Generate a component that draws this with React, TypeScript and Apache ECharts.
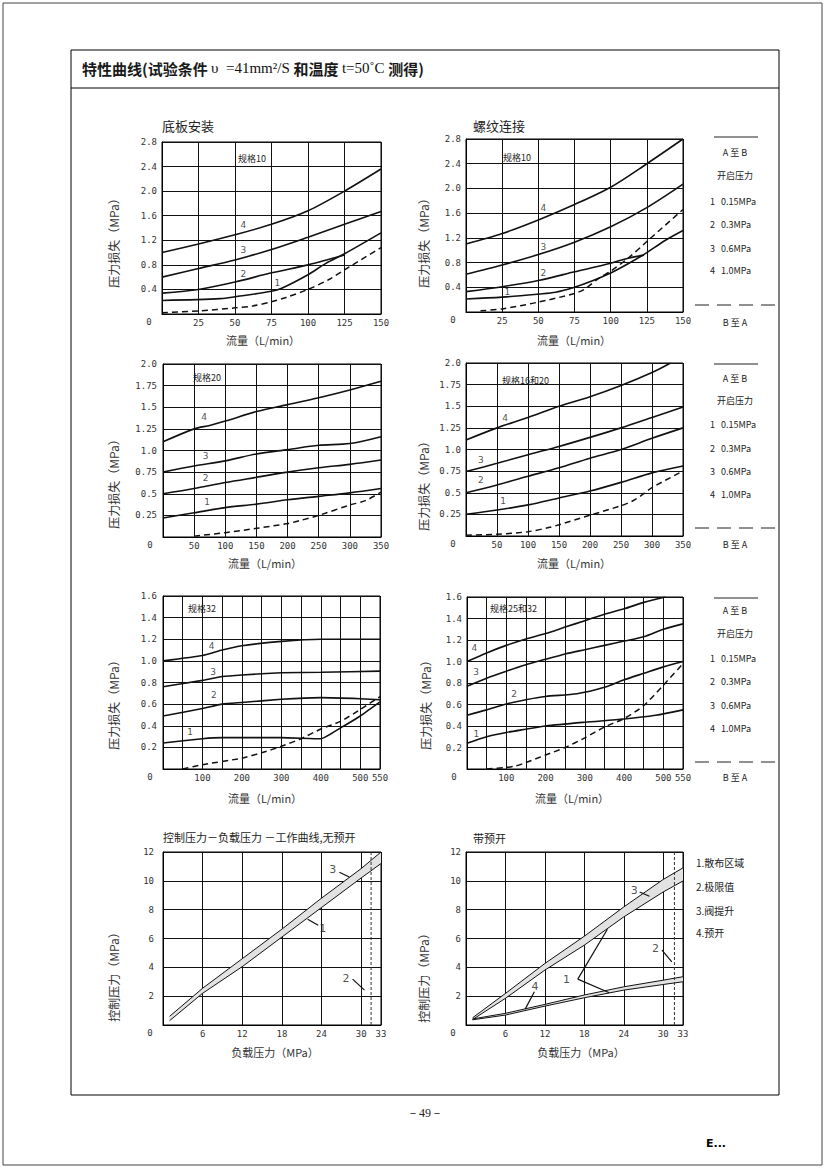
import React, { useEffect, useRef } from "react";
import * as echarts from "echarts";

// ---------------- data ----------------
// Panel 1: 底板安装, 规格10  (x: L/min, y: MPa)
const p1Open1 = [[0, 0.22], [40, 0.25], [50, 0.28], [75, 0.37], [82, 0.42], [100, 0.64], [112, 0.82], [125, 0.98], [150, 1.32]];
const p1Open2 = [[0, 0.34], [25, 0.4], [50, 0.52], [75, 0.67], [100, 0.8], [125, 0.96]];
const p1Open3 = [[0, 0.6], [25, 0.74], [50, 0.88], [75, 1.05], [100, 1.25], [125, 1.46], [150, 1.67]];
const p1Open4 = [[0, 1.0], [25, 1.14], [50, 1.29], [75, 1.46], [100, 1.68], [125, 2.0], [150, 2.36]];
const p1BtoA = [[0, 0.02], [25, 0.05], [50, 0.1], [62, 0.13], [75, 0.2], [85, 0.27], [100, 0.4], [115, 0.57], [125, 0.72], [150, 1.08]];
const p1Tags = [[55.7, 1.45, "4"], [55.7, 1.04, "3"], [55.7, 0.65, "2"], [79, 0.51, "1"]];

// Panel 2: 螺纹连接, 规格10
const p2Open1 = [[0, 0.21], [25, 0.24], [50, 0.29], [62, 0.32], [75, 0.4], [87, 0.5], [100, 0.63], [112, 0.78], [125, 0.96], [137, 1.15], [150, 1.32]];
const p2Open2 = [[0, 0.33], [25, 0.41], [50, 0.51], [75, 0.65], [100, 0.79], [112, 0.87], [123, 0.92]];
const p2Open3 = [[0, 0.61], [25, 0.76], [50, 0.93], [75, 1.13], [100, 1.38], [125, 1.69], [150, 2.07]];
const p2Open4 = [[0, 1.1], [25, 1.27], [50, 1.49], [75, 1.74], [100, 2.02], [125, 2.4], [150, 2.8]];
const p2BtoA = [[10, 0.02], [25, 0.05], [50, 0.16], [75, 0.3], [82, 0.37], [92, 0.55], [100, 0.66], [112, 0.87], [125, 1.14], [150, 1.66]];
const p2Tags = [[53.5, 1.69, "4"], [53.5, 1.06, "3"], [53.5, 0.63, "2"], [28.6, 0.32, "1"]];

// Panel 3: 规格20
const p3Open1 = [[0, 0.22], [50, 0.28], [100, 0.34], [150, 0.38], [200, 0.43], [250, 0.47], [300, 0.51], [350, 0.56]];
const p3Open2 = [[0, 0.5], [50, 0.56], [100, 0.63], [150, 0.69], [200, 0.75], [250, 0.8], [300, 0.84], [350, 0.89]];
const p3Open3 = [[0, 0.75], [50, 0.82], [100, 0.88], [150, 0.96], [200, 1.01], [250, 1.06], [300, 1.08], [350, 1.16]];
const p3Open4 = [[0, 1.1], [50, 1.25], [75, 1.29], [100, 1.34], [150, 1.45], [200, 1.53], [250, 1.61], [300, 1.7], [350, 1.8]];
const p3BtoA = [[50, 0.01], [100, 0.05], [150, 0.1], [200, 0.155], [220, 0.19], [250, 0.25], [300, 0.37], [325, 0.42], [350, 0.52]];
const p3Tags = [[66, 1.39, "4"], [68.6, 0.94, "3"], [68.6, 0.68, "2"], [71, 0.41, "1"]];

// Panel 4: 规格16和20
const p4Open1 = [[0, 0.25], [50, 0.3], [100, 0.36], [150, 0.44], [200, 0.52], [250, 0.62], [300, 0.73], [350, 0.81]];
const p4Open2 = [[0, 0.5], [50, 0.59], [100, 0.69], [150, 0.79], [200, 0.9], [250, 1.0], [300, 1.13], [350, 1.25]];
const p4Open3 = [[0, 0.745], [50, 0.84], [100, 0.94], [150, 1.035], [200, 1.14], [250, 1.25], [300, 1.37], [350, 1.49]];
const p4Open4 = [[0, 1.11], [50, 1.25], [100, 1.37], [150, 1.5], [200, 1.61], [250, 1.74], [300, 1.89], [330, 2.0]];
const p4BtoA = [[0, 0.01], [50, 0.02], [100, 0.05], [135, 0.1], [150, 0.13], [200, 0.24], [250, 0.35], [270, 0.41], [285, 0.48], [300, 0.56], [350, 0.75]];
const p4Tags = [[63, 1.36, "4"], [24, 0.88, "3"], [24, 0.65, "2"], [60, 0.4, "1"]];

// Panel 5: 规格32
const p5Open1 = [[0, 0.24], [100, 0.28], [150, 0.29], [300, 0.29], [400, 0.28], [450, 0.38], [500, 0.49], [550, 0.62]];
const p5Open2 = [[0, 0.49], [100, 0.56], [150, 0.6], [200, 0.615], [300, 0.645], [400, 0.66], [500, 0.65], [550, 0.64]];
const p5Open3 = [[0, 0.76], [100, 0.82], [150, 0.855], [200, 0.87], [300, 0.89], [400, 0.895], [550, 0.905]];
const p5Open4 = [[0, 1.0], [100, 1.05], [150, 1.1], [200, 1.14], [300, 1.18], [400, 1.2], [550, 1.2]];
const p5BtoA = [[50, 0], [100, 0.04], [200, 0.1], [250, 0.15], [300, 0.21], [350, 0.28], [400, 0.37], [450, 0.44], [500, 0.55], [550, 0.67]];
const p5Tags = [[123, 1.14, "4"], [127, 0.9, "3"], [129, 0.68, "2"], [69, 0.34, "1"]];

// Panel 6: 规格25和32
const p6Open1 = [[0, 0.24], [50, 0.3], [100, 0.34], [150, 0.37], [200, 0.4], [300, 0.435], [400, 0.465], [480, 0.5], [550, 0.55]];
const p6Open2 = [[0, 0.5], [50, 0.55], [100, 0.605], [150, 0.645], [200, 0.675], [280, 0.7], [350, 0.76], [400, 0.83], [450, 0.89], [500, 0.95], [550, 1.0]];
const p6Open3 = [[0, 0.77], [50, 0.845], [100, 0.91], [150, 0.97], [200, 1.02], [250, 1.07], [300, 1.11], [350, 1.15], [400, 1.19], [450, 1.23], [500, 1.3], [550, 1.35]];
const p6Open4 = [[0, 1.0], [50, 1.08], [100, 1.15], [150, 1.21], [200, 1.26], [250, 1.32], [300, 1.38], [350, 1.44], [400, 1.49], [450, 1.55], [505, 1.6]];
const p6BtoA = [[50, 0], [100, 0.015], [125, 0.03], [150, 0.06], [200, 0.13], [250, 0.2], [300, 0.29], [350, 0.39], [400, 0.47], [450, 0.59], [500, 0.78], [550, 0.98]];
const p6Tags = [[18.7, 1.13, "4"], [23, 0.9, "3"], [120, 0.7, "2"], [24, 0.33, "1"]];

// Panel 7: 控制压力-负载压力 工作曲线, 无预开 (x: 负载压力 MPa, y: 控制压力 MPa)
const p7Upper = [[1, 0.6], [6, 2.55], [12, 4.6], [18, 6.65], [24, 8.8], [30, 10.85], [33, 12.0]];
const p7Lower = [[1, 0.3], [6, 2.2], [12, 4.05], [18, 6.1], [24, 8.15], [30, 10.2], [33, 11.2]];
const p7Limit = [[31.5, 0], [31.5, 12]];
const p7Leaders = [[[26.7, 10.6], [28.2, 10.27]], [[21.9, 7.34], [23.5, 6.92]], [[28.7, 3.18], [30.5, 2.42]]];
const p7Tags = [[25.7, 10.77, "3"], [24.2, 6.69, "1"], [27.7, 3.23, "2"]];

// Panel 8: 带预开
const p8LiftUpper = [[1, 0.5], [6, 2.19], [12, 4.27], [18, 6.16], [24, 8.19], [30, 10.1], [33, 10.9]];
const p8LiftLower = [[1, 0.38], [6, 1.85], [12, 3.81], [18, 5.54], [24, 7.5], [30, 9.23], [33, 9.99]];
const p8PreUpper = [[1, 0.42], [6, 0.81], [12, 1.43], [18, 2.08], [24, 2.65], [30, 3.11], [33, 3.35]];
const p8PreLower = [[1, 0.36], [6, 0.69], [12, 1.31], [18, 1.89], [24, 2.42], [30, 2.81], [33, 3.0]];
const p8Limit = [[31.7, 0], [31.7, 12]];
const p8Leaders = [
  [[26.4, 9.23], [27.9, 8.93]],
  [[29.8, 5.19], [31.3, 4.38]],
  [[17.0, 3.18], [21.5, 6.64]],
  [[17.0, 3.18], [21.8, 2.24]],
  [[10.4, 2.31], [9.0, 1.1]],
];
const p8Tags = [[25.6, 9.34, "3"], [28.8, 5.31, "2"], [15.3, 3.18, "1"], [10.5, 2.65, "4"]];

// legends / texts
const openingLegend = ["1   0.15MPa", "2   0.3MPa", "3   0.6MPa", "4   1.0MPa"];
const bottomLegend = ["1.散布区域", "2.极限值", "3.阀提升", "4.预开"];

// ---------------- layout & style ----------------
const CJK = '"Noto Sans CJK SC", "Noto Sans", sans-serif';
const NUM = '"DejaVu Sans Mono", monospace';
const INK = "#111";

const fmt1 = (v: number) => (v === 0 ? "" : v.toFixed(1));
const fmtQ = (v: number) => (v === 0 ? "" : v === 2 ? "2.0" : v === 1 ? "1.0" : String(+v.toFixed(2)));
const fmtInt = (v: number) => (v === 0 ? "" : String(Math.round(v)));
const fmt550 = (v: number) => (v === 0 ? "" : v % 100 === 0 || v === 550 ? String(v) : "");

const panels: any[] = [
  { g: [162, 142, 219, 172], xMax: 150, xInt: 25, yMax: 2.8, yInt: 0.4, xFmt: fmtInt, yFmt: fmt1, yMargin: 5,
    curves: [p1Open1, p1Open2, p1Open3, p1Open4], dashed: p1BtoA, tags: p1Tags, smooth: 0.3,
    title: "底板安装", titlePos: [162, 125], titleSize: 13, spec: "规格10", specPos: [238, 158],
    yName: "压力损失（MPa）", yNamePos: [113, 240], xName: "流量（L/min）", xNamePos: [263, 340] },
  { g: [466, 139, 217, 173], xMax: 150, xInt: 25, yMax: 2.8, yInt: 0.4, xFmt: fmtInt, yFmt: fmt1, yMargin: 5,
    curves: [p2Open1, p2Open2, p2Open3, p2Open4], dashed: p2BtoA, tags: p2Tags, smooth: 0.3,
    title: "螺纹连接", titlePos: [473, 125], titleSize: 13, spec: "规格10", specPos: [503, 157],
    yName: "压力损失（MPa）", yNamePos: [423, 240], xName: "流量（L/min）", xNamePos: [574, 340] },
  { g: [163, 364, 218, 173], xMax: 350, xInt: 50, yMax: 2.0, yInt: 0.25, xFmt: fmtInt, yFmt: fmtQ, yMargin: 6,
    curves: [p3Open1, p3Open2, p3Open3, p3Open4], dashed: p3BtoA, tags: p3Tags, smooth: 0.3,
    spec: "规格20", specPos: [193, 377],
    yName: "压力损失（MPa）", yNamePos: [113, 481], xName: "流量（L/min）", xNamePos: [265, 563] },
  { g: [466, 363, 217, 173], xMax: 350, xInt: 50, yMax: 2.0, yInt: 0.25, xFmt: fmtInt, yFmt: fmtQ, yMargin: 5,
    curves: [p4Open1, p4Open2, p4Open3, p4Open4], dashed: p4BtoA, tags: p4Tags, smooth: 0.3,
    spec: "规格16和20", specPos: [502, 380],
    yName: "压力损失（MPa）", yNamePos: [423, 483], xName: "流量（L/min）", xNamePos: [574, 563] },
  { g: [163, 596, 217, 173], xMax: 550, xInt: 50, yMax: 1.6, yInt: 0.2, xFmt: fmt550, yFmt: fmt1, yMargin: 6,
    curves: [p5Open1, p5Open2, p5Open3, p5Open4], dashed: p5BtoA, tags: p5Tags, smooth: 0.15,
    spec: "规格32", specPos: [188, 608],
    yName: "压力损失（MPa）", yNamePos: [113, 702], xName: "流量（L/min）", xNamePos: [265, 798] },
  { g: [467, 597, 216, 172], xMax: 550, xInt: 50, yMax: 1.6, yInt: 0.2, xFmt: fmt550, yFmt: fmt1, yMargin: 5,
    curves: [p6Open1, p6Open2, p6Open3, p6Open4], dashed: p6BtoA, tags: p6Tags, smooth: 0.25,
    spec: "规格25和32", specPos: [490, 608],
    yName: "压力损失（MPa）", yNamePos: [425, 702], xName: "流量（L/min）", xNamePos: [572, 798] },
  { g: [163, 852, 218, 173], xMax: 33, xInt: 6, yMax: 12, yInt: 2, xFmt: fmtInt, yFmt: fmtInt, yMargin: 9,
    bands: [[p7Upper, p7Lower]], limit: p7Limit, leaders: p7Leaders, tags: p7Tags,
    title: "控制压力－负载压力 －工作曲线,无预开", titlePos: [163, 837], titleSize: 11,
    yName: "控制压力（MPa）", yNamePos: [113, 974], xName: "负载压力（MPa）", xNamePos: [275, 1052] },
  { g: [466, 852, 217, 173], xMax: 33, xInt: 6, yMax: 12, yInt: 2, xFmt: fmtInt, yFmt: fmtInt, yMargin: 5,
    bands: [[p8LiftUpper, p8LiftLower], [p8PreUpper, p8PreLower]], limit: p8Limit, leaders: p8Leaders, tags: p8Tags,
    title: "带预开", titlePos: [473, 838], titleSize: 11,
    yName: "控制压力（MPa）", yNamePos: [423, 975], xName: "负载压力（MPa）", xNamePos: [581, 1052] },
];

const legendRows = [
  { top: 137, ab: 152, open: 175, items: [201, 224, 248, 270], dash: 305, ba: 322 },
  { top: 364, ab: 378, open: 400, items: [424, 448, 471, 494], dash: 528, ba: 544 },
  { top: 598, ab: 610, open: 633, items: [658, 681, 705, 728], dash: 762, ba: 777 },
];
const bottomLegendY = [862, 886, 910, 932];

function txt(x: number, y: number, text: string, font: string, align = "left", extra: any = {}) {
  return {
    type: "text", x, y, silent: true, z: 50,
    style: { text, font, fill: "#222", textAlign: align, textVerticalAlign: "middle", ...extra.style },
    ...(extra.rotation ? { rotation: extra.rotation } : {}),
  };
}
function hline(x1: number, x2: number, y: number, dash?: number[], w = 1, color = "#222") {
  return { type: "line", silent: true, shape: { x1, y1: y, x2, y2: y }, style: { stroke: color, lineWidth: w, lineDash: dash } };
}

function buildOption() {
  const grid: any[] = [];
  const xAxis: any[] = [];
  const yAxis: any[] = [];
  const series: any[] = [];
  const graphic: any[] = [];

  panels.forEach((p, i) => {
    const [left, top, width, height] = p.g;
    grid.push({ left, top, width, height, show: true, borderColor: "#000", borderWidth: 1, backgroundColor: "transparent", containLabel: false });
    xAxis.push({
      type: "value", gridIndex: i, min: 0, max: p.xMax, interval: p.xInt,
      axisLine: { show: true, onZero: false, lineStyle: { color: "#000", width: 1 } },
      axisTick: { show: false },
      splitLine: { show: true, lineStyle: { color: INK, width: 1 } },
      axisLabel: { formatter: p.xFmt, fontFamily: NUM, fontSize: 9, color: "#333", margin: 4, showMinLabel: true, showMaxLabel: true },
    });
    yAxis.push({
      type: "value", gridIndex: i, min: 0, max: p.yMax, interval: p.yInt,
      axisLine: { show: true, onZero: false, lineStyle: { color: "#000", width: 1 } },
      axisTick: { show: false },
      splitLine: { show: true, lineStyle: { color: INK, width: 1 } },
      axisLabel: { formatter: p.yFmt, fontFamily: NUM, fontSize: 9, color: "#333", margin: p.yMargin, showMaxLabel: true },
    });

    (p.curves || []).forEach((c: number[][]) => {
      series.push({
        type: "line", xAxisIndex: i, yAxisIndex: i, data: c, symbol: "none", silent: true,
        smooth: p.smooth, lineStyle: { color: INK, width: 1.6 }, z: 3,
      });
    });
    if (p.dashed) {
      series.push({
        type: "line", xAxisIndex: i, yAxisIndex: i, data: p.dashed, symbol: "none", silent: true,
        smooth: p.smooth, lineStyle: { color: INK, width: 1.5, type: [6, 4] }, z: 3,
      });
    }
    (p.bands || []).forEach((b: number[][][]) => {
      const [upper, lower] = b;
      series.push({
        type: "custom", xAxisIndex: i, yAxisIndex: i, data: [[upper[0][0], upper[0][1]]], silent: true, z: 1,
        renderItem: (_params: any, api: any) => {
          const pts = upper.map((pt) => api.coord(pt)).concat(lower.slice().reverse().map((pt) => api.coord(pt)));
          return { type: "polygon", shape: { points: pts }, style: { fill: "#e2e2e2", stroke: "none" } };
        },
      });
      [upper, lower].forEach((edge) =>
        series.push({ type: "line", xAxisIndex: i, yAxisIndex: i, data: edge, symbol: "none", silent: true, lineStyle: { color: INK, width: 1 }, z: 3 })
      );
    });
    if (p.limit) {
      series.push({ type: "line", xAxisIndex: i, yAxisIndex: i, data: p.limit, symbol: "none", silent: true, lineStyle: { color: "#333", width: 1, type: [3, 2] }, z: 3 });
    }
    (p.leaders || []).forEach((l: number[][]) => {
      series.push({ type: "line", xAxisIndex: i, yAxisIndex: i, data: l, symbol: "none", silent: true, lineStyle: { color: INK, width: 1.2 }, z: 4 });
    });
    if (p.tags) {
      series.push({
        type: "scatter", xAxisIndex: i, yAxisIndex: i, silent: true, z: 5,
        data: p.tags.map((t: any[]) => ({ value: [t[0], t[1]], name: t[2] })),
        symbolSize: 1, itemStyle: { color: "rgba(0,0,0,0)" },
        label: { show: true, position: "inside", formatter: "{b}", fontSize: p.bands ? 11 : 9, fontFamily: '"DejaVu Sans", sans-serif', color: "#222" },
      });
    }

    // texts around the panel
    if (p.title) graphic.push(txt(p.titlePos[0], p.titlePos[1], p.title, `${p.titleSize}px ${CJK}`));
    if (p.spec) graphic.push(txt(p.specPos[0], p.specPos[1], p.spec, `9px ${CJK}`));
    graphic.push(txt(p.yNamePos[0], p.yNamePos[1], p.yName, `12px ${CJK}`, "center", { rotation: Math.PI / 2, style: { fill: "#333" } }));
    graphic.push(txt(p.xNamePos[0], p.xNamePos[1], p.xName, `11px ${CJK}`, "center", { style: { fill: "#333" } }));
    graphic.push(txt(left - 13, top + height + 8, "0", `9px ${NUM}`, "center", { style: { fill: "#333" } }));
  });

  // page frame, box, header
  graphic.push({ type: "rect", silent: true, shape: { x: 3, y: 3, width: 819, height: 1162 }, style: { fill: "none", stroke: "#444", lineWidth: 1 } });
  graphic.push({ type: "rect", silent: true, shape: { x: 71, y: 50, width: 708, height: 1045 }, style: { fill: "none", stroke: "#000", lineWidth: 1 } });
  graphic.push(hline(71, 779, 88, undefined, 1, "#000"));
  graphic.push({
    type: "text", x: 82, y: 68, silent: true,
    style: {
      text: "{a|特性曲线(试验条件 }{b|υ  =41mm²/S }{a|和温度 }{b|t=50˚C }{a|测得)}",
      textVerticalAlign: "middle", textAlign: "left",
      rich: {
        a: { font: `bold 15px ${CJK}`, fill: "#1a1a1a" },
        b: { font: `15px "Liberation Serif", serif`, fill: "#111" },
      },
    },
  });

  // opening-pressure legends on the right
  legendRows.forEach((r) => {
    graphic.push(hline(714, 758, r.top, undefined, 1, "#222"));
    graphic.push(txt(735, r.ab, "A 至 B", `9px ${CJK}`, "center"));
    graphic.push(txt(735, r.open, "开启压力", `9px ${CJK}`, "center"));
    openingLegend.forEach((s, k) => graphic.push(txt(710, r.items[k], s, `9px ${CJK}`)));
    graphic.push(hline(695, 777, r.dash, [14, 8], 1.2, "#222"));
    graphic.push(txt(735, r.ba, "B 至 A", `9px ${CJK}`, "center"));
  });
  bottomLegend.forEach((s, k) => graphic.push(txt(696, bottomLegendY[k], s, `10px ${CJK}`)));

  // footer
  graphic.push(txt(425, 1113, "－49－", `12px "Liberation Serif", serif`, "center"));
  graphic.push(txt(706, 1143, "E...", `bold 11px "DejaVu Sans", sans-serif`, "left", { style: { fill: "#000" } }));

  return { animation: false, backgroundColor: "#fff", grid, xAxis, yAxis, series, graphic };
}

export default function App() {
  const ref = useRef<HTMLDivElement>(null);
  useEffect(() => {
    const chart = echarts.init(ref.current as HTMLDivElement, null, { renderer: "svg" });
    chart.setOption(buildOption() as any);
    return () => chart.dispose();
  }, []);
  return <div ref={ref} style={{ position: "absolute", left: 0, top: 0, width: 826, height: 1169, background: "#fff" }} />;
}
